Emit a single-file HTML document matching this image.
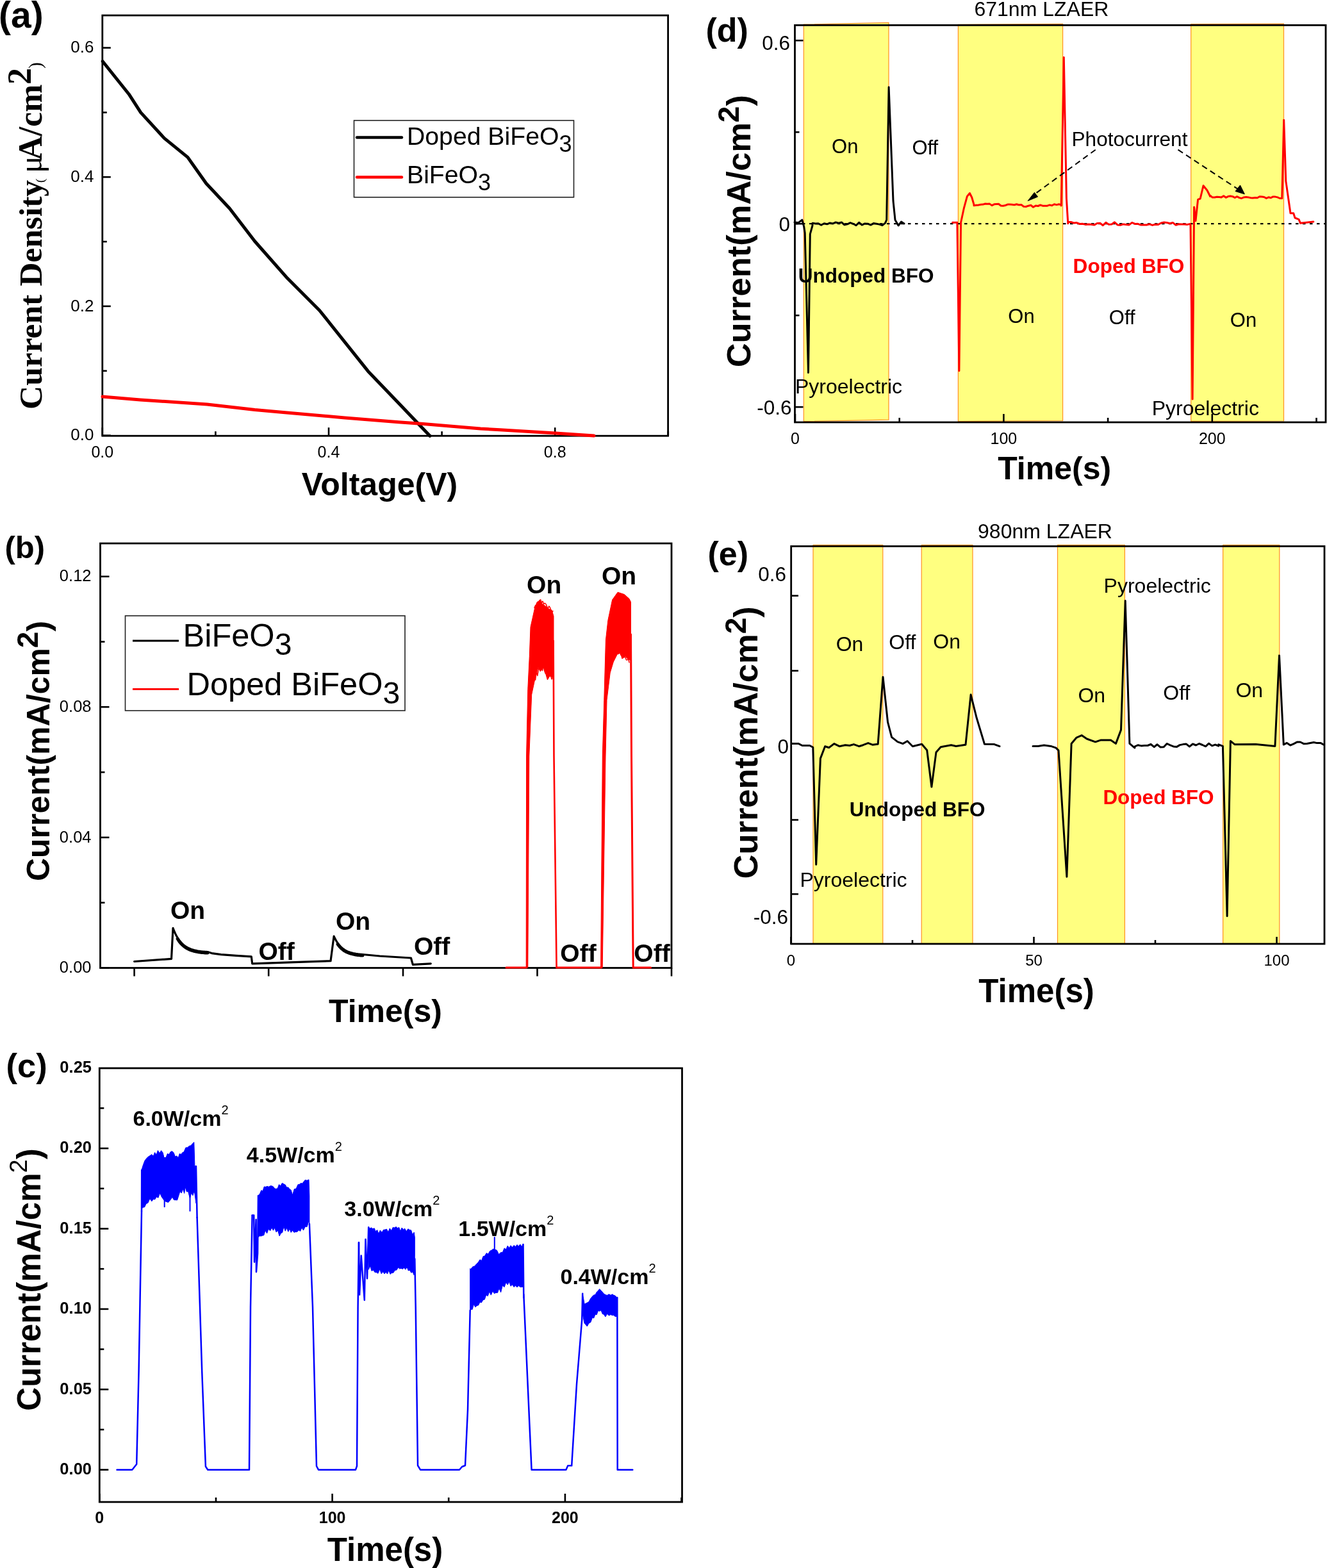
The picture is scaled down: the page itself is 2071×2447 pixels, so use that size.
<!DOCTYPE html>
<html><head><meta charset="utf-8"><title>Figure</title>
<style>html,body{margin:0;padding:0;background:#fff;}svg{display:block;}</style></head>
<body>
<svg width="2071" height="2447" viewBox="0 0 2071 2447">
<rect width="2071" height="2447" fill="#fff"/>
<g id="pa">
<text x="-2.0" y="42.6" font-size="57" text-anchor="start" font-weight="bold" fill="#000" font-family="'Liberation Sans', Arial, sans-serif" >(a)</text>
<rect x="159.8" y="24" width="882.8" height="656.2" fill="none" stroke="#000" stroke-width="2.8"/>
<line x1="159.8" y1="679.6" x2="172.8" y2="679.6" stroke="#000" stroke-width="2.6" />
<line x1="159.8" y1="578.8" x2="166.8" y2="578.8" stroke="#000" stroke-width="2.6" />
<line x1="159.8" y1="477.9" x2="172.8" y2="477.9" stroke="#000" stroke-width="2.6" />
<line x1="159.8" y1="377.1" x2="166.8" y2="377.1" stroke="#000" stroke-width="2.6" />
<line x1="159.8" y1="276.3" x2="172.8" y2="276.3" stroke="#000" stroke-width="2.6" />
<line x1="159.8" y1="175.5" x2="166.8" y2="175.5" stroke="#000" stroke-width="2.6" />
<line x1="159.8" y1="74.6" x2="172.8" y2="74.6" stroke="#000" stroke-width="2.6" />
<line x1="159.8" y1="680.2" x2="159.8" y2="667.2" stroke="#000" stroke-width="2.6" />
<line x1="336.4" y1="680.2" x2="336.4" y2="673.2" stroke="#000" stroke-width="2.6" />
<line x1="513.0" y1="680.2" x2="513.0" y2="667.2" stroke="#000" stroke-width="2.6" />
<line x1="689.6" y1="680.2" x2="689.6" y2="673.2" stroke="#000" stroke-width="2.6" />
<line x1="866.2" y1="680.2" x2="866.2" y2="667.2" stroke="#000" stroke-width="2.6" />
<line x1="1042.8" y1="680.2" x2="1042.8" y2="673.2" stroke="#000" stroke-width="2.6" />
<text x="146.5" y="687.4" font-size="26" text-anchor="end" fill="#000" font-family="'Liberation Sans', Arial, sans-serif" >0.0</text>
<text x="146.5" y="485.7" font-size="26" text-anchor="end" fill="#000" font-family="'Liberation Sans', Arial, sans-serif" >0.2</text>
<text x="146.5" y="284.1" font-size="26" text-anchor="end" fill="#000" font-family="'Liberation Sans', Arial, sans-serif" >0.4</text>
<text x="146.5" y="82.4" font-size="26" text-anchor="end" fill="#000" font-family="'Liberation Sans', Arial, sans-serif" >0.6</text>
<text x="159.8" y="714.3" font-size="25" text-anchor="middle" fill="#000" font-family="'Liberation Sans', Arial, sans-serif" >0.0</text>
<text x="513.0" y="714.3" font-size="25" text-anchor="middle" fill="#000" font-family="'Liberation Sans', Arial, sans-serif" >0.4</text>
<text x="866.2" y="714.3" font-size="25" text-anchor="middle" fill="#000" font-family="'Liberation Sans', Arial, sans-serif" >0.8</text>
<text x="592.4" y="773.0" font-size="50" text-anchor="middle" font-weight="bold" fill="#000" font-family="'Liberation Sans', Arial, sans-serif" >Voltage(V)</text>
<g transform="translate(64.6,638) rotate(-90)" font-family="'Liberation Serif', 'Times New Roman', serif" font-weight="bold"><text x="-1" y="0" font-size="51.5">Current Density</text><text x="353" y="4" font-size="19" font-weight="normal">(</text><text x="368" y="0" font-size="50" font-weight="normal">μ</text><text x="388" y="0" font-size="52">A/cm</text><text x="506" y="-16.4" font-size="52">2</text><text x="531" y="0" font-size="29" font-weight="normal">)</text></g>
<rect x="552.5" y="188" width="343" height="119.8" fill="#fff" stroke="#222" stroke-width="1.6"/>
<line x1="557.0" y1="214.5" x2="627.0" y2="214.5" stroke="#000" stroke-width="4.5" stroke-linecap="round"/>
<line x1="557.0" y1="276.5" x2="627.0" y2="276.5" stroke="#f00" stroke-width="4.5" stroke-linecap="round"/>
<text x="635" y="225.6" font-size="39.2" font-family="'Liberation Sans', Arial, sans-serif">Doped BiFeO<tspan font-size="36" dy="11">3</tspan></text>
<text x="635" y="286.4" font-size="39.2" font-family="'Liberation Sans', Arial, sans-serif">BiFeO<tspan font-size="36" dy="11">3</tspan></text>
<polyline points="160.2,95.7 201.0,146.7 219.7,175.6 256.3,215.6 292.9,245.4 321.8,286.2 358.3,325.3 397.6,376.5 448.6,434.3 498.5,484.2 574.5,579.4 624.4,631.6 670.9,680.3" fill="none" stroke="#000" stroke-width="5" stroke-linejoin="round" stroke-linecap="round" />
<polyline points="160.0,619.0 219.0,624.0 323.0,631.0 397.6,639.5 447.5,644.0 538.0,652.0 622.0,658.8 660.5,661.5 750.0,669.0 780.0,670.7 867.0,676.0 927.0,680.0" fill="none" stroke="#f00" stroke-width="5" stroke-linejoin="round" stroke-linecap="round" />
</g>
<g id="pb">
<text x="7.5" y="870.5" font-size="49" text-anchor="start" font-weight="bold" fill="#000" font-family="'Liberation Sans', Arial, sans-serif" >(b)</text>
<rect x="156.5" y="848" width="891.5" height="662.5" fill="none" stroke="#000" stroke-width="2.8"/>
<line x1="156.5" y1="1510.5" x2="170.5" y2="1510.5" stroke="#000" stroke-width="2.6" />
<line x1="156.5" y1="1408.7" x2="163.5" y2="1408.7" stroke="#000" stroke-width="2.6" />
<line x1="156.5" y1="1306.9" x2="170.5" y2="1306.9" stroke="#000" stroke-width="2.6" />
<line x1="156.5" y1="1205.1" x2="163.5" y2="1205.1" stroke="#000" stroke-width="2.6" />
<line x1="156.5" y1="1103.3" x2="170.5" y2="1103.3" stroke="#000" stroke-width="2.6" />
<line x1="156.5" y1="1001.5" x2="163.5" y2="1001.5" stroke="#000" stroke-width="2.6" />
<line x1="156.5" y1="899.7" x2="170.5" y2="899.7" stroke="#000" stroke-width="2.6" />
<line x1="209.6" y1="1510.5" x2="209.6" y2="1523.5" stroke="#000" stroke-width="2.6" />
<line x1="419.2" y1="1510.5" x2="419.2" y2="1523.5" stroke="#000" stroke-width="2.6" />
<line x1="629.0" y1="1510.5" x2="629.0" y2="1523.5" stroke="#000" stroke-width="2.6" />
<line x1="838.5" y1="1510.5" x2="838.5" y2="1523.5" stroke="#000" stroke-width="2.6" />
<line x1="1048.0" y1="1510.5" x2="1048.0" y2="1523.5" stroke="#000" stroke-width="2.6" />
<text x="142.5" y="1518.2" font-size="25.5" text-anchor="end" fill="#000" font-family="'Liberation Sans', Arial, sans-serif" >0.00</text>
<text x="142.5" y="1314.6" font-size="25.5" text-anchor="end" fill="#000" font-family="'Liberation Sans', Arial, sans-serif" >0.04</text>
<text x="142.5" y="1111.0" font-size="25.5" text-anchor="end" fill="#000" font-family="'Liberation Sans', Arial, sans-serif" >0.08</text>
<text x="142.5" y="907.4" font-size="25.5" text-anchor="end" fill="#000" font-family="'Liberation Sans', Arial, sans-serif" >0.12</text>
<text transform="translate(77.4,1172) rotate(-90)" font-size="50" font-weight="bold" text-anchor="middle" font-family="'Liberation Sans', Arial, sans-serif">Current(mA/cm<tspan font-size="46" dy="-18">2</tspan><tspan dy="18">)</tspan></text>
<text x="601.5" y="1595.0" font-size="50" text-anchor="middle" font-weight="bold" fill="#000" font-family="'Liberation Sans', Arial, sans-serif" >Time(s)</text>
<rect x="195.5" y="961" width="436.5" height="148" fill="#fff" stroke="#222" stroke-width="1.6"/>
<line x1="207.0" y1="1000.0" x2="279.0" y2="1000.0" stroke="#000" stroke-width="3" />
<line x1="207.0" y1="1075.6" x2="279.0" y2="1075.6" stroke="#f00" stroke-width="3" />
<text x="285.5" y="1009.3" font-size="50.5" font-family="'Liberation Sans', Arial, sans-serif">BiFeO<tspan font-size="48" dy="12.5">3</tspan></text>
<text x="291.5" y="1085.3" font-size="50.5" font-family="'Liberation Sans', Arial, sans-serif">Doped BiFeO<tspan font-size="48" dy="12.5">3</tspan></text>
<polyline points="209.6,1500.5 267.5,1496.3 270.0,1448.4 271.8,1453.0 273.6,1457.0 275.4,1460.5 277.2,1463.6 279.0,1466.4 280.8,1468.8 282.6,1470.9 284.4,1472.8 286.2,1474.4 288.0,1475.8 289.8,1477.1 291.6,1478.2 293.4,1479.2 295.2,1480.0 297.0,1480.8 298.8,1481.5 300.6,1482.0 302.4,1482.6 304.2,1483.0 306.0,1483.4 307.8,1483.8 309.6,1484.1 311.4,1484.3 313.2,1484.6 315.0,1484.8 316.8,1485.0 318.6,1485.1 320.4,1485.3 322.2,1485.4 324.0,1485.5 330.4,1487.6 345.0,1489.7 368.7,1491.4 392.3,1492.9 393.7,1503.8 516.0,1499.7 521.1,1461.1 522.6,1464.3 524.1,1467.1 525.6,1469.7 527.1,1471.9 528.6,1473.9 530.1,1475.7 531.6,1477.3 533.1,1478.8 534.6,1480.0 536.1,1481.2 537.6,1482.2 539.1,1483.1 540.6,1483.9 542.1,1484.6 543.5,1485.2 545.0,1485.8 546.5,1486.3 548.0,1486.7 549.5,1487.1 551.0,1487.5 552.5,1487.8 554.0,1488.1 555.5,1488.4 557.0,1488.6 558.5,1488.8 560.0,1489.0 561.5,1489.1 563.0,1489.3 564.5,1489.4 566.0,1489.5 592.7,1492.0 641.4,1495.0 644.3,1505.3 672.3,1503.8" fill="none" stroke="#000" stroke-width="3.2" stroke-linejoin="round" stroke-linecap="round" />
<polyline points="277.2,1465.2 279.0,1468.0 280.8,1470.4 282.6,1472.5 284.4,1474.4 286.2,1476.0 288.0,1477.4 289.8,1478.7 291.6,1479.8 293.4,1480.8 295.2,1481.6 297.0,1482.4 298.8,1483.1 300.6,1483.6 302.4,1484.2 304.2,1484.6 306.0,1485.0 307.8,1485.4 309.6,1485.7 311.4,1485.9 313.2,1486.2 315.0,1486.4 316.8,1486.6 318.6,1486.7 320.4,1486.9 322.2,1487.0 324.0,1487.1" fill="none" stroke="#000" stroke-width="5.0" stroke-linejoin="round" stroke-linecap="round" />
<polyline points="527.1,1473.5 528.6,1475.5 530.1,1477.3 531.6,1478.9 533.1,1480.4 534.6,1481.6 536.1,1482.8 537.6,1483.8 539.1,1484.7 540.6,1485.5 542.1,1486.2 543.5,1486.8 545.0,1487.4 546.5,1487.9 548.0,1488.3 549.5,1488.7 551.0,1489.1 552.5,1489.4 554.0,1489.7 555.5,1490.0 557.0,1490.2 558.5,1490.4 560.0,1490.6 561.5,1490.7 563.0,1490.9 564.5,1491.0 566.0,1491.1" fill="none" stroke="#000" stroke-width="5.0" stroke-linejoin="round" stroke-linecap="round" />
<polyline points="790.0,1510.0 821.5,1510.0" fill="none" stroke="#f00" stroke-width="3" stroke-linejoin="round" stroke-linecap="round" />
<polyline points="868.6,1510.0 938.5,1510.0" fill="none" stroke="#f00" stroke-width="3" stroke-linejoin="round" stroke-linecap="round" />
<polyline points="988.2,1510.0 1015.5,1510.0" fill="none" stroke="#f00" stroke-width="3" stroke-linejoin="round" stroke-linecap="round" />
<polygon points="821.2,1510.0 821.6,1180.0 823.8,1075.6 826.3,1024.6 828.0,978.6 834.8,948.0 838.0,940.0 842.5,937.0 846.0,942.0 851.8,946.3 856.0,950.0 861.2,952.3 864.0,961.6 864.0,1057.0 862.9,1057.0 858.0,1055.0 854.4,1061.0 848.4,1040.0 843.3,1048.0 840.0,1041.6 834.8,1060.0 829.7,1084.0 825.8,1180.0 823.8,1510.0" fill="#f00" stroke="#f00" stroke-width="1" stroke-linejoin="round"/>
<polyline points="863.6,1000.0 864.5,1180.0 868.6,1510.0" fill="none" stroke="#f00" stroke-width="2.6" stroke-linejoin="round" stroke-linecap="round" />
<polyline points="834.0,948.6 835.6,944.8 837.2,946.4 838.8,939.4 840.4,940.7 842.0,936.9 843.7,935.8 845.3,940.7 847.0,938.3 848.7,942.8 850.3,941.2 852.0,942.7 853.6,946.4 855.1,950.6 856.7,946.0 858.3,947.8 859.9,952.0 861.4,955.6 863.0,953.6" fill="none" stroke="#f00" stroke-width="1.5" stroke-linejoin="round" stroke-linecap="round" />
<polyline points="834.0,1056.8 835.6,1061.1 837.2,1047.4 838.8,1054.5 840.4,1045.1 842.0,1040.7 843.5,1039.7 845.0,1041.2 846.5,1046.5 848.0,1038.2 849.6,1046.6 851.2,1050.9 852.8,1051.3 854.4,1057.0 856.0,1054.8 857.8,1054.0 859.5,1055.0 861.2,1059.9 863.0,1056.1" fill="none" stroke="#f00" stroke-width="1.5" stroke-linejoin="round" stroke-linecap="round" />
<polygon points="937.6,1510.0 940.3,1180.0 942.8,1092.6 945.4,999.0 948.8,968.4 955.6,936.1 964.1,924.2 974.3,927.6 982.0,934.4 984.5,939.5 984.5,1000.0 984.5,1030.0 981.0,1029.7 976.0,1024.6 970.9,1028.0 968.3,1018.6 964.1,1019.5 957.3,1033.0 952.2,1050.0 947.0,1092.6 945.0,1180.0 940.2,1510.0" fill="#f00" stroke="#f00" stroke-width="1" stroke-linejoin="round"/>
<polyline points="984.5,990.0 985.5,1180.0 988.2,1510.0" fill="none" stroke="#f00" stroke-width="3" stroke-linejoin="round" stroke-linecap="round" />
<polyline points="963.0,1018.5 964.5,1020.7 966.0,1019.6 967.5,1018.4 969.0,1022.4 970.8,1023.1 972.5,1021.0 974.2,1025.1 976.0,1026.2 977.5,1030.0 979.0,1029.8 980.5,1027.3 982.0,1033.8" fill="none" stroke="#f00" stroke-width="1.5" stroke-linejoin="round" stroke-linecap="round" />
<text x="293.0" y="1433.9" font-size="39" text-anchor="middle" font-weight="bold" fill="#000" font-family="'Liberation Sans', Arial, sans-serif" >On</text>
<text x="431.6" y="1497.9" font-size="39" text-anchor="middle" font-weight="bold" fill="#000" font-family="'Liberation Sans', Arial, sans-serif" >Off</text>
<text x="551.0" y="1451.4" font-size="39" text-anchor="middle" font-weight="bold" fill="#000" font-family="'Liberation Sans', Arial, sans-serif" >On</text>
<text x="674.2" y="1490.0" font-size="39" text-anchor="middle" font-weight="bold" fill="#000" font-family="'Liberation Sans', Arial, sans-serif" >Off</text>
<text x="849.2" y="926.0" font-size="39" text-anchor="middle" font-weight="bold" fill="#000" font-family="'Liberation Sans', Arial, sans-serif" >On</text>
<text x="966.0" y="912.3" font-size="39" text-anchor="middle" font-weight="bold" fill="#000" font-family="'Liberation Sans', Arial, sans-serif" >On</text>
<text x="1017.5" y="1500.5" font-size="39" text-anchor="middle" font-weight="bold" fill="#000" font-family="'Liberation Sans', Arial, sans-serif" >Off</text>
<text x="902.5" y="1500.5" font-size="39" text-anchor="middle" font-weight="bold" fill="#000" font-family="'Liberation Sans', Arial, sans-serif" >Off</text>
</g>
<g id="pc">
<text x="9.5" y="1681.0" font-size="52.5" text-anchor="start" font-weight="bold" fill="#000" font-family="'Liberation Sans', Arial, sans-serif" >(c)</text>
<rect x="155.3" y="1667" width="909.2" height="677" fill="none" stroke="#000" stroke-width="2.8"/>
<line x1="155.3" y1="2293.7" x2="169.3" y2="2293.7" stroke="#000" stroke-width="2.6" />
<line x1="155.3" y1="2231.0" x2="162.3" y2="2231.0" stroke="#000" stroke-width="2.6" />
<line x1="155.3" y1="2168.3" x2="169.3" y2="2168.3" stroke="#000" stroke-width="2.6" />
<line x1="155.3" y1="2105.6" x2="162.3" y2="2105.6" stroke="#000" stroke-width="2.6" />
<line x1="155.3" y1="2042.9" x2="169.3" y2="2042.9" stroke="#000" stroke-width="2.6" />
<line x1="155.3" y1="1980.2" x2="162.3" y2="1980.2" stroke="#000" stroke-width="2.6" />
<line x1="155.3" y1="1917.5" x2="169.3" y2="1917.5" stroke="#000" stroke-width="2.6" />
<line x1="155.3" y1="1854.8" x2="162.3" y2="1854.8" stroke="#000" stroke-width="2.6" />
<line x1="155.3" y1="1792.1" x2="169.3" y2="1792.1" stroke="#000" stroke-width="2.6" />
<line x1="155.3" y1="1729.4" x2="162.3" y2="1729.4" stroke="#000" stroke-width="2.6" />
<line x1="155.3" y1="2344.0" x2="155.3" y2="2331.0" stroke="#000" stroke-width="2.6" />
<line x1="337.0" y1="2344.0" x2="337.0" y2="2337.0" stroke="#000" stroke-width="2.6" />
<line x1="518.6" y1="2344.0" x2="518.6" y2="2331.0" stroke="#000" stroke-width="2.6" />
<line x1="700.2" y1="2344.0" x2="700.2" y2="2337.0" stroke="#000" stroke-width="2.6" />
<line x1="881.9" y1="2344.0" x2="881.9" y2="2331.0" stroke="#000" stroke-width="2.6" />
<line x1="1063.5" y1="2344.0" x2="1063.5" y2="2337.0" stroke="#000" stroke-width="2.6" />
<text x="143.0" y="2300.9" font-size="25.5" text-anchor="end" font-weight="bold" fill="#000" font-family="'Liberation Sans', Arial, sans-serif" >0.00</text>
<text x="143.0" y="2175.5" font-size="25.5" text-anchor="end" font-weight="bold" fill="#000" font-family="'Liberation Sans', Arial, sans-serif" >0.05</text>
<text x="143.0" y="2050.1" font-size="25.5" text-anchor="end" font-weight="bold" fill="#000" font-family="'Liberation Sans', Arial, sans-serif" >0.10</text>
<text x="143.0" y="1924.7" font-size="25.5" text-anchor="end" font-weight="bold" fill="#000" font-family="'Liberation Sans', Arial, sans-serif" >0.15</text>
<text x="143.0" y="1799.3" font-size="25.5" text-anchor="end" font-weight="bold" fill="#000" font-family="'Liberation Sans', Arial, sans-serif" >0.20</text>
<text x="143.0" y="1673.9" font-size="25.5" text-anchor="end" font-weight="bold" fill="#000" font-family="'Liberation Sans', Arial, sans-serif" >0.25</text>
<text x="155.3" y="2377.2" font-size="25" text-anchor="middle" font-weight="bold" fill="#000" font-family="'Liberation Sans', Arial, sans-serif" >0</text>
<text x="518.6" y="2377.2" font-size="25" text-anchor="middle" font-weight="bold" fill="#000" font-family="'Liberation Sans', Arial, sans-serif" >100</text>
<text x="881.9" y="2377.2" font-size="25" text-anchor="middle" font-weight="bold" fill="#000" font-family="'Liberation Sans', Arial, sans-serif" >200</text>
<text transform="translate(62.5,1997) rotate(-90)" font-size="51" font-weight="bold" text-anchor="middle" font-family="'Liberation Sans', Arial, sans-serif">Current(mA/cm<tspan font-size="38" font-weight="normal" dy="-21">2</tspan><tspan dy="21">)</tspan></text>
<text x="601.0" y="2436.0" font-size="51" text-anchor="middle" font-weight="bold" fill="#000" font-family="'Liberation Sans', Arial, sans-serif" >Time(s)</text>
<text x="207.5" y="1756.8" font-size="34" font-weight="bold" font-family="'Liberation Sans', Arial, sans-serif">6.0W/cm<tspan font-size="20" font-weight="normal" dy="-18">2</tspan></text>
<text x="384.8" y="1814" font-size="34" font-weight="bold" font-family="'Liberation Sans', Arial, sans-serif">4.5W/cm<tspan font-size="20" font-weight="normal" dy="-18">2</tspan></text>
<text x="537.3" y="1898.2" font-size="34" font-weight="bold" font-family="'Liberation Sans', Arial, sans-serif">3.0W/cm<tspan font-size="20" font-weight="normal" dy="-18">2</tspan></text>
<text x="715.3" y="1928.6" font-size="34" font-weight="bold" font-family="'Liberation Sans', Arial, sans-serif">1.5W/cm<tspan font-size="20" font-weight="normal" dy="-18">2</tspan></text>
<text x="874.5" y="2003.5" font-size="34" font-weight="bold" font-family="'Liberation Sans', Arial, sans-serif">0.4W/cm<tspan font-size="20" font-weight="normal" dy="-18">2</tspan></text>
<polyline points="182.5,2293.7 206.3,2293.7 213.2,2285.0 216.6,2140.0 221.0,1890.0" fill="none" stroke="#00f" stroke-width="2.5" stroke-linejoin="round" stroke-linecap="round" />
<polyline points="307.6,1900.0 315.2,2140.0 320.9,2288.5 324.3,2293.7 389.0,2293.7 391.0,2040.0 393.6,1897.0" fill="none" stroke="#00f" stroke-width="2.5" stroke-linejoin="round" stroke-linecap="round" />
<polyline points="482.9,1910.0 488.0,2040.0 494.0,2288.0 497.0,2293.7 555.0,2293.7 557.0,2288.0 558.6,2040.0 560.0,1939.0" fill="none" stroke="#00f" stroke-width="2.5" stroke-linejoin="round" stroke-linecap="round" />
<polyline points="647.3,1964.5 648.7,2040.0 652.0,2287.0 656.0,2293.7 717.0,2293.7 721.0,2289.0 726.0,2287.0 730.0,2200.0 733.7,2045.0" fill="none" stroke="#00f" stroke-width="2.5" stroke-linejoin="round" stroke-linecap="round" />
<polyline points="817.3,2020.0 829.6,2293.7 883.4,2293.7 886.3,2287.3 892.2,2287.3 900.0,2160.0 908.2,2060.0 909.2,2018.8" fill="none" stroke="#00f" stroke-width="2.5" stroke-linejoin="round" stroke-linecap="round" />
<polyline points="963.3,2025.0 963.7,2293.7 987.3,2293.7" fill="none" stroke="#00f" stroke-width="2.5" stroke-linejoin="round" stroke-linecap="round" />
<polygon points="221.0,1825.8 223.6,1817.5 226.1,1811.1 228.7,1807.8 231.4,1805.1 234.1,1803.5 236.8,1801.5 239.2,1804.5 241.6,1798.5 244.0,1802.2 246.4,1795.4 249.0,1799.7 251.6,1795.6 254.2,1799.0 256.0,1806.5 259.0,1806.4 261.4,1800.4 263.8,1801.6 266.1,1797.6 268.5,1796.6 271.0,1798.8 273.4,1805.0 275.9,1803.9 278.1,1807.1 280.3,1800.5 282.5,1801.5 284.8,1798.6 287.0,1797.8 289.9,1791.0 292.6,1790.8 295.3,1788.4 298.0,1787.8 300.4,1784.8 302.8,1782.6 303.9,1818.8 306.0,1822.1 306.0,1877.8 303.2,1857.9 300.9,1865.7 298.7,1861.4 296.5,1870.3 293.6,1859.3 291.4,1859.9 289.2,1852.3 287.7,1862.4 285.5,1855.6 283.2,1862.0 281.0,1859.2 276.6,1872.9 274.0,1872.7 271.5,1872.6 268.9,1868.2 266.3,1872.1 262.6,1876.4 259.0,1875.2 256.7,1874.0 252.3,1867.9 249.6,1861.9 246.9,1869.2 244.2,1867.8 241.7,1871.9 239.3,1871.5 236.8,1874.8 233.9,1870.4 231.0,1877.1 228.0,1878.6 225.7,1883.7 223.3,1884.3 221.0,1885.9" fill="#00f" stroke="#00f" stroke-width="1" stroke-linejoin="round"/>
<polyline points="221.0,1890.0 221.2,1826.0" fill="none" stroke="#00f" stroke-width="2.5" stroke-linejoin="round" stroke-linecap="round" />
<polyline points="306.0,1820.0 307.6,1900.0" fill="none" stroke="#00f" stroke-width="2.5" stroke-linejoin="round" stroke-linecap="round" />
<polyline points="256.7,1870.0 256.7,1883.2" fill="none" stroke="#00f" stroke-width="2" stroke-linejoin="round" stroke-linecap="round" />
<polyline points="296.5,1866.0 296.5,1889.8" fill="none" stroke="#00f" stroke-width="2" stroke-linejoin="round" stroke-linecap="round" />
<polyline points="393.6,1896.5 396.2,1896.5 397.0,1969.6 399.6,1903.3 400.0,1985.0 402.1,1956.0 403.0,1866.0" fill="none" stroke="#00f" stroke-width="2.5" stroke-linejoin="round" stroke-linecap="round" />
<polygon points="403.0,1865.8 405.5,1863.1 407.8,1857.6 410.0,1858.8 412.3,1851.9 414.7,1852.3 417.1,1851.3 419.4,1852.2 421.8,1850.7 424.2,1850.8 426.5,1851.9 428.7,1854.8 431.0,1855.4 433.3,1854.4 435.5,1848.5 437.8,1850.6 440.4,1846.3 443.0,1847.9 445.2,1848.9 447.5,1853.1 449.8,1852.9 452.0,1855.7 454.2,1857.2 456.5,1865.0 459.3,1855.6 462.2,1855.1 465.0,1848.6 467.3,1848.3 469.5,1846.4 471.8,1847.0 476.1,1841.4 479.1,1842.2 482.0,1840.9 482.9,1865.7 482.9,1910.7 482.0,1904.9 479.2,1914.4 476.3,1914.3 473.5,1920.0 471.1,1915.9 468.6,1921.4 466.2,1919.8 463.8,1922.5 461.4,1922.5 458.9,1923.3 456.5,1920.1 454.2,1923.4 452.0,1917.6 449.8,1922.2 447.5,1916.3 445.2,1921.2 443.0,1914.1 440.7,1923.4 438.4,1924.6 436.1,1928.9 433.6,1920.3 431.0,1922.8 428.7,1916.0 426.5,1920.2 424.2,1916.0 421.6,1920.8 419.1,1917.9 416.6,1924.7 414.0,1920.2 411.8,1927.7 409.6,1928.2 407.4,1929.1 405.2,1928.8 403.0,1930.5" fill="#00f" stroke="#00f" stroke-width="1" stroke-linejoin="round"/>
<polyline points="560.0,1939.0 561.1,2020.6 563.7,1959.4 568.8,2029.0 570.5,1933.9 573.0,1995.3 575.2,1915.2" fill="none" stroke="#00f" stroke-width="2.5" stroke-linejoin="round" stroke-linecap="round" />
<polygon points="575.2,1915.1 577.4,1916.9 579.7,1915.9 581.9,1917.7 584.1,1916.7 586.4,1921.8 588.6,1919.4 590.9,1925.3 593.4,1919.9 596.0,1923.4 598.5,1919.2 601.0,1919.1 603.4,1918.1 605.9,1922.8 608.3,1916.9 610.8,1920.6 613.2,1915.5 615.7,1916.0 618.1,1914.5 620.4,1916.7 622.6,1915.3 624.9,1921.4 627.2,1916.0 629.4,1918.9 631.7,1917.2 634.2,1921.8 636.8,1917.8 639.3,1919.4 641.6,1919.8 643.9,1926.8 646.2,1923.0 647.3,1930.9 647.3,1960.8 646.2,1990.0 644.0,1984.8 641.8,1986.3 639.5,1982.0 637.3,1983.0 635.1,1977.4 632.8,1981.2 630.6,1978.5 628.3,1980.4 626.0,1979.4 623.8,1980.1 621.5,1978.0 619.0,1981.9 616.4,1982.4 613.8,1986.3 611.3,1986.5 609.0,1988.5 606.8,1982.5 604.5,1988.1 602.2,1985.3 600.0,1988.0 597.7,1984.6 595.2,1987.8 592.6,1980.7 590.0,1987.3 587.5,1985.7 585.0,1985.6 582.6,1982.1 580.1,1983.4 577.7,1975.7 575.2,1981.3" fill="#00f" stroke="#00f" stroke-width="1" stroke-linejoin="round"/>
<polygon points="733.7,1979.7 734.7,1980.6 737.8,1976.8 740.8,1975.9 743.5,1972.7 746.3,1970.1 749.0,1965.7 751.5,1967.5 754.1,1960.6 756.7,1960.0 759.2,1955.5 761.9,1957.1 764.6,1952.3 767.3,1951.0 769.5,1949.2 771.8,1949.5 775.5,1951.3 778.5,1957.6 781.6,1954.5 784.3,1954.5 787.1,1947.9 789.8,1949.8 792.2,1944.1 794.7,1947.6 797.1,1943.7 799.6,1946.6 802.0,1943.4 804.5,1945.6 806.9,1942.5 809.4,1944.9 811.8,1941.9 814.3,1945.4 816.5,1941.2 816.5,2008.0 814.3,2008.5 811.8,2008.5 809.4,2006.4 806.9,2008.8 804.5,2006.2 802.0,2008.6 799.6,2004.8 797.1,2007.2 794.7,2000.3 792.2,2005.0 789.8,2001.1 787.1,2008.6 784.3,2006.0 781.6,2016.9 779.0,2010.5 776.5,2017.5 774.0,2017.3 771.4,2018.7 768.9,2014.8 766.3,2021.1 763.8,2015.6 761.2,2022.7 758.8,2020.7 756.3,2028.0 753.9,2028.5 751.4,2032.9 749.0,2032.0 746.6,2037.0 744.2,2037.5 741.9,2040.0 739.5,2035.3 737.1,2043.6 734.7,2043.5 733.7,2045.7" fill="#00f" stroke="#00f" stroke-width="1" stroke-linejoin="round"/>
<polyline points="771.8,1950.0 771.8,1931.0" fill="none" stroke="#00f" stroke-width="2" stroke-linejoin="round" stroke-linecap="round" />
<polyline points="816.5,1942.0 817.3,2025.0" fill="none" stroke="#00f" stroke-width="2.5" stroke-linejoin="round" stroke-linecap="round" />
<polygon points="909.2,2018.8 912.2,2035.2 916.3,2033.0 919.0,2031.6 921.8,2026.3 924.5,2023.1 926.7,2020.9 929.0,2020.7 931.2,2016.4 933.5,2014.2 935.7,2011.5 938.0,2014.0 940.3,2016.4 942.6,2019.3 944.9,2020.6 947.6,2021.4 950.4,2019.7 953.1,2021.3 955.5,2019.7 957.8,2021.3 960.1,2022.1 962.5,2024.6 963.3,2024.1 963.3,2055.3 962.5,2054.4 960.1,2054.5 957.8,2052.5 955.5,2052.7 953.1,2051.5 950.4,2053.1 947.6,2050.3 944.9,2055.0 942.6,2051.4 940.3,2050.5 938.0,2044.8 935.7,2046.3 933.5,2045.4 931.2,2051.8 929.0,2051.2 926.7,2057.1 924.5,2056.2 921.8,2063.6 919.0,2065.0 916.3,2069.9 912.0,2064.8 909.2,2050.2" fill="#00f" stroke="#00f" stroke-width="1" stroke-linejoin="round"/>
</g>
<g id="pd">
<polygon points="1254.3,38.2 1387,35.4 1387,655.1 1254.3,657.6" fill="#ffff80" stroke="#ff9020" stroke-width="1.2"/>
<polygon points="1495.4,38.4 1658.6,37.4 1658.6,656.6 1495.4,657.6" fill="#ffff80" stroke="#ff9020" stroke-width="1.2"/>
<polygon points="1858.7,37.6 2003.5,37.2 2003.5,657.0 1858.7,657.4" fill="#ffff80" stroke="#ff9020" stroke-width="1.2"/>
<rect x="1240.5" y="39.3" width="828.5" height="619.7" fill="none" stroke="#000" stroke-width="2.8"/>
<line x1="1240.5" y1="63.2" x2="1253.5" y2="63.2" stroke="#000" stroke-width="2.6" />
<line x1="1240.5" y1="206.2" x2="1247.5" y2="206.2" stroke="#000" stroke-width="2.6" />
<line x1="1240.5" y1="349.2" x2="1253.5" y2="349.2" stroke="#000" stroke-width="2.6" />
<line x1="1240.5" y1="492.2" x2="1247.5" y2="492.2" stroke="#000" stroke-width="2.6" />
<line x1="1240.5" y1="635.2" x2="1253.5" y2="635.2" stroke="#000" stroke-width="2.6" />
<line x1="1241.0" y1="659.0" x2="1241.0" y2="646.0" stroke="#000" stroke-width="2.6" />
<line x1="1403.7" y1="659.0" x2="1403.7" y2="652.0" stroke="#000" stroke-width="2.6" />
<line x1="1566.4" y1="659.0" x2="1566.4" y2="646.0" stroke="#000" stroke-width="2.6" />
<line x1="1729.1" y1="659.0" x2="1729.1" y2="652.0" stroke="#000" stroke-width="2.6" />
<line x1="1891.8" y1="659.0" x2="1891.8" y2="646.0" stroke="#000" stroke-width="2.6" />
<line x1="2054.5" y1="659.0" x2="2054.5" y2="652.0" stroke="#000" stroke-width="2.6" />
<text x="1233.0" y="77.5" font-size="31.5" text-anchor="end" fill="#000" font-family="'Liberation Sans', Arial, sans-serif" >0.6</text>
<text x="1233.0" y="360.5" font-size="31.5" text-anchor="end" fill="#000" font-family="'Liberation Sans', Arial, sans-serif" >0</text>
<text x="1235.5" y="646.5" font-size="31.5" text-anchor="end" fill="#000" font-family="'Liberation Sans', Arial, sans-serif" >-0.6</text>
<text x="1241.0" y="692.8" font-size="25" text-anchor="middle" fill="#000" font-family="'Liberation Sans', Arial, sans-serif" >0</text>
<text x="1566.4" y="692.8" font-size="25" text-anchor="middle" fill="#000" font-family="'Liberation Sans', Arial, sans-serif" >100</text>
<text x="1891.8" y="692.8" font-size="25" text-anchor="middle" fill="#000" font-family="'Liberation Sans', Arial, sans-serif" >200</text>
<text x="1625.4" y="25.4" font-size="32" text-anchor="middle" fill="#000" font-family="'Liberation Sans', Arial, sans-serif" >671nm LZAER</text>
<text x="1645.7" y="747.9" font-size="50" text-anchor="middle" font-weight="bold" fill="#000" font-family="'Liberation Sans', Arial, sans-serif" >Time(s)</text>
<text x="1101.5" y="64.5" font-size="52" text-anchor="start" font-weight="bold" fill="#000" font-family="'Liberation Sans', Arial, sans-serif" >(d)</text>
<text transform="translate(1171,360.7) rotate(-90)" font-size="52.5" font-weight="bold" text-anchor="middle" font-family="'Liberation Sans', Arial, sans-serif">Current(mA/cm<tspan font-size="46" dy="-18">2</tspan><tspan dy="18">)</tspan></text>
<line x1="1241.0" y1="349.2" x2="2069.0" y2="349.2" stroke="#000" stroke-width="2.2" stroke-dasharray="4.5 6.5"/>
<polyline points="1240.0,346.9 1245.9,347.6 1251.8,343.2 1254.7,353.5 1256.2,363.8 1261.5,581.6 1264.3,365.3 1268.0,352.0 1268.0,348.3 1272.5,348.9 1277.1,348.8 1281.6,351.3 1286.2,348.7 1290.7,349.8 1295.2,348.0 1299.8,348.9 1304.3,347.0 1308.9,348.2 1313.4,346.9 1317.9,350.9 1322.5,349.8 1327.0,347.7 1331.6,349.3 1336.1,351.8 1340.6,347.2 1345.2,351.1 1349.7,348.9 1354.3,349.2 1358.8,351.1 1363.3,348.6 1367.9,349.2 1372.4,350.1 1377.0,351.7 1381.5,348.1 1383.7,343.2 1387.1,136.1 1390.3,217.9 1394.0,313.7 1397.0,343.2 1402.1,352.0 1406.5,346.1 1411.0,349.0" fill="none" stroke="#000" stroke-width="3" stroke-linejoin="round" stroke-linecap="round" />
<polyline points="1486.5,347.2 1493.9,347.2 1496.9,578.7 1499.6,347.2 1504.5,324.3 1509.4,306.4 1513.4,301.5 1516.7,308.0 1520.0,319.4 1520.0,320.7 1523.5,320.3 1527.0,320.0 1530.5,319.2 1534.0,319.1 1537.5,318.0 1541.0,318.3 1544.5,318.1 1548.0,320.6 1551.5,318.8 1555.0,318.5 1558.5,318.3 1562.0,321.0 1565.5,321.2 1569.0,320.5 1572.5,319.1 1576.0,319.0 1579.5,319.2 1583.0,319.8 1586.5,318.7 1590.0,319.8 1593.8,319.4 1597.5,322.2 1601.2,322.5 1605.0,321.2 1608.8,320.3 1612.5,323.2 1616.2,321.1 1620.0,321.5 1623.6,320.0 1627.2,321.2 1630.9,321.3 1634.5,321.2 1638.1,319.9 1641.7,320.8 1645.3,318.8 1649.0,319.6 1652.6,318.7 1656.2,319.6 1656.2,321.0 1660.3,89.4 1664.4,309.6 1666.8,348.8 1666.8,346.6 1671.3,346.5 1675.9,348.0 1680.4,347.6 1685.0,349.5 1689.5,349.2 1694.1,350.4 1698.6,349.9 1703.1,350.2 1707.7,351.1 1712.2,348.5 1716.8,348.2 1721.3,351.7 1725.9,347.3 1730.4,350.3 1734.9,349.9 1739.5,346.8 1744.0,350.9 1748.6,351.3 1753.1,349.9 1757.7,350.5 1762.2,350.9 1766.7,347.4 1771.3,349.4 1775.8,349.3 1780.4,351.0 1784.9,350.9 1789.5,351.0 1794.0,349.8 1798.5,351.4 1803.1,350.3 1807.6,350.4 1812.2,348.0 1816.7,347.0 1821.3,347.5 1825.8,348.7 1830.3,347.4 1834.9,351.2 1839.4,349.8 1844.0,350.1 1848.5,350.1 1853.1,350.4 1857.6,349.4 1858.0,350.0 1861.1,623.1 1863.6,323.2 1866.0,344.7 1869.6,311.3 1873.2,310.0 1878.0,289.8 1883.9,297.0 1888.7,306.5 1888.7,305.2 1892.2,308.1 1895.7,308.0 1899.2,307.2 1902.7,307.4 1906.2,307.9 1909.7,305.8 1913.2,308.3 1916.7,306.6 1920.2,306.0 1923.7,306.7 1927.2,308.5 1930.7,306.7 1934.2,308.6 1937.7,309.5 1941.2,307.9 1944.8,307.5 1948.3,307.9 1951.8,308.7 1955.3,309.1 1958.8,308.6 1962.3,308.8 1965.8,306.8 1969.3,307.1 1972.8,307.5 1976.3,309.4 1979.8,307.8 1983.3,308.8 1986.8,306.9 1990.3,307.1 1993.8,307.9 1997.3,309.5 2000.8,309.6 2000.8,308.9 2003.7,187.2 2006.8,282.6 2014.0,332.7 2018.7,332.7 2021.0,340.0 2027.0,342.3 2029.5,348.3 2049.8,345.9" fill="none" stroke="#f00" stroke-width="3" stroke-linejoin="round" stroke-linecap="round" />
<line x1="1709.7" y1="233.7" x2="1612.0" y2="305.0" stroke="#000" stroke-width="2" stroke-dasharray="9 6"/>
<polygon points="1604.2,313.4 1614.4,300.3 1619.5,307.1" fill="#000" stroke="#000" stroke-width="1" stroke-linejoin="round"/>
<line x1="1838.5" y1="233.7" x2="1935.0" y2="297.0" stroke="#000" stroke-width="2" stroke-dasharray="9 6"/>
<polygon points="1942.4,302.9 1928.0,298.5 1935.5,289.0" fill="#000" stroke="#000" stroke-width="1" stroke-linejoin="round"/>
<text x="1318.7" y="239.3" font-size="31" text-anchor="middle" fill="#000" font-family="'Liberation Sans', Arial, sans-serif" >On</text>
<text x="1443.8" y="240.8" font-size="31" text-anchor="middle" fill="#000" font-family="'Liberation Sans', Arial, sans-serif" >Off</text>
<text x="1351.7" y="441.2" font-size="31.5" text-anchor="middle" font-weight="bold" fill="#000" font-family="'Liberation Sans', Arial, sans-serif" >Undoped BFO</text>
<text x="1324.5" y="614.3" font-size="32" text-anchor="middle" fill="#000" font-family="'Liberation Sans', Arial, sans-serif" >Pyroelectric</text>
<text x="1763.0" y="227.5" font-size="31.6" text-anchor="middle" fill="#000" font-family="'Liberation Sans', Arial, sans-serif" >Photocurrent</text>
<text x="1761.5" y="425.9" font-size="31.6" text-anchor="middle" font-weight="bold" fill="#f00" font-family="'Liberation Sans', Arial, sans-serif" >Doped BFO</text>
<text x="1594.0" y="504.3" font-size="31" text-anchor="middle" fill="#000" font-family="'Liberation Sans', Arial, sans-serif" >On</text>
<text x="1751.2" y="505.8" font-size="31" text-anchor="middle" fill="#000" font-family="'Liberation Sans', Arial, sans-serif" >Off</text>
<text x="1940.5" y="509.5" font-size="31" text-anchor="middle" fill="#000" font-family="'Liberation Sans', Arial, sans-serif" >On</text>
<text x="1881.3" y="647.5" font-size="32" text-anchor="middle" fill="#000" font-family="'Liberation Sans', Arial, sans-serif" >Pyroelectric</text>
</g>
<g id="pe">
<rect x="1269" y="850.5" width="108.8" height="622" fill="#ffff80" stroke="#ff9020" stroke-width="1.2"/>
<rect x="1438.2" y="850.5" width="79.8" height="622" fill="#ffff80" stroke="#ff9020" stroke-width="1.2"/>
<rect x="1650.5" y="850.5" width="104.9" height="622" fill="#ffff80" stroke="#ff9020" stroke-width="1.2"/>
<rect x="1908.6" y="850.5" width="88.2" height="622" fill="#ffff80" stroke="#ff9020" stroke-width="1.2"/>
<rect x="1234.7" y="852.5" width="832.3" height="620.5" fill="none" stroke="#000" stroke-width="2.8"/>
<line x1="1235.0" y1="929.7" x2="1246.0" y2="929.7" stroke="#000" stroke-width="2.6" />
<line x1="1235.0" y1="1046.8" x2="1246.0" y2="1046.8" stroke="#000" stroke-width="2.6" />
<line x1="1235.0" y1="1279.5" x2="1246.0" y2="1279.5" stroke="#000" stroke-width="2.6" />
<line x1="1235.0" y1="1395.3" x2="1246.0" y2="1395.3" stroke="#000" stroke-width="2.6" />
<line x1="1234.5" y1="1473.0" x2="1234.5" y2="1462.0" stroke="#000" stroke-width="2.6" />
<line x1="1424.0" y1="1473.0" x2="1424.0" y2="1467.0" stroke="#000" stroke-width="2.6" />
<line x1="1613.5" y1="1473.0" x2="1613.5" y2="1462.0" stroke="#000" stroke-width="2.6" />
<line x1="1803.0" y1="1473.0" x2="1803.0" y2="1467.0" stroke="#000" stroke-width="2.6" />
<line x1="1992.5" y1="1473.0" x2="1992.5" y2="1462.0" stroke="#000" stroke-width="2.6" />
<text x="1227.0" y="907.0" font-size="31.5" text-anchor="end" fill="#000" font-family="'Liberation Sans', Arial, sans-serif" >0.6</text>
<text x="1231.0" y="1175.5" font-size="31.5" text-anchor="end" fill="#000" font-family="'Liberation Sans', Arial, sans-serif" >0</text>
<text x="1230.0" y="1441.5" font-size="31.5" text-anchor="end" fill="#000" font-family="'Liberation Sans', Arial, sans-serif" >-0.6</text>
<text x="1234.5" y="1507.3" font-size="24" text-anchor="middle" fill="#000" font-family="'Liberation Sans', Arial, sans-serif" >0</text>
<text x="1613.5" y="1507.3" font-size="24" text-anchor="middle" fill="#000" font-family="'Liberation Sans', Arial, sans-serif" >50</text>
<text x="1992.5" y="1507.3" font-size="24" text-anchor="middle" fill="#000" font-family="'Liberation Sans', Arial, sans-serif" >100</text>
<text x="1631.0" y="839.5" font-size="32" text-anchor="middle" fill="#000" font-family="'Liberation Sans', Arial, sans-serif" >980nm LZAER</text>
<text x="1617.6" y="1564.3" font-size="51" text-anchor="middle" font-weight="bold" fill="#000" font-family="'Liberation Sans', Arial, sans-serif" >Time(s)</text>
<text x="1104.5" y="882.0" font-size="52" text-anchor="start" font-weight="bold" fill="#000" font-family="'Liberation Sans', Arial, sans-serif" >(e)</text>
<text transform="translate(1181.8,1158.9) rotate(-90)" font-size="52.5" font-weight="bold" text-anchor="middle" font-family="'Liberation Sans', Arial, sans-serif">Current(mA/cm<tspan font-size="46" dy="-18">2</tspan><tspan dy="18">)</tspan></text>
<polyline points="1235.4,1160.6 1246.4,1160.6 1252.0,1163.5 1263.7,1163.5 1268.8,1166.3 1273.7,1349.2 1280.4,1183.6 1287.6,1164.7 1293.7,1166.7 1301.8,1160.6 1310.0,1164.7 1319.2,1162.7 1326.0,1163.5 1332.4,1161.6 1340.6,1164.7 1347.0,1162.7 1354.9,1159.6 1362.0,1162.3 1370.2,1161.2 1378.0,1056.5 1385.5,1126.9 1391.6,1150.4 1400.8,1157.6 1409.0,1160.6 1416.1,1156.5 1424.3,1164.7 1438.6,1161.2 1446.7,1170.8 1453.9,1228.0 1461.0,1173.9 1468.2,1165.7 1484.5,1162.7 1492.0,1164.5 1507.0,1162.2 1515.1,1084.1 1524.3,1120.8 1536.5,1161.2 1551.8,1161.6 1560.0,1164.7" fill="none" stroke="#000" stroke-width="3" stroke-linejoin="round" stroke-linecap="round" />
<polyline points="1612.0,1164.4 1620.0,1164.4 1629.4,1163.1 1640.0,1164.4 1648.0,1167.1 1652.0,1171.1 1664.9,1368.3 1672.1,1160.4 1680.1,1151.1 1688.1,1147.6 1696.1,1153.0 1709.5,1157.8 1717.5,1155.1 1733.5,1155.1 1741.5,1160.4 1749.5,1139.1 1756.2,937.5 1762.9,1160.4 1770.9,1167.1 1770.9,1165.0 1775.9,1162.8 1781.0,1163.9 1786.0,1163.6 1791.0,1163.5 1796.1,1161.5 1801.1,1165.7 1806.1,1161.8 1811.1,1166.1 1816.2,1165.8 1821.2,1160.5 1826.2,1162.9 1831.3,1164.9 1836.3,1165.6 1841.3,1162.6 1846.4,1161.6 1851.4,1161.1 1856.4,1165.2 1861.5,1161.0 1866.5,1163.0 1871.5,1160.5 1876.5,1162.5 1881.6,1164.8 1886.6,1160.2 1891.6,1163.9 1896.7,1162.1 1901.7,1164.2 1901.7,1161.8 1908.4,1164.4 1915.1,1429.7 1920.4,1156.4 1927.1,1161.8 1960.0,1161.5 1989.9,1164.4 1996.5,1022.9 2003.2,1160.4 2003.2,1162.1 2008.4,1159.4 2013.7,1163.1 2018.9,1160.8 2024.1,1158.1 2029.4,1158.0 2034.6,1160.7 2039.8,1160.4 2045.1,1159.5 2050.3,1158.5 2055.5,1159.6 2060.8,1159.4 2066.0,1162.3" fill="none" stroke="#000" stroke-width="3" stroke-linejoin="round" stroke-linecap="round" />
<text x="1326.0" y="1015.7" font-size="32" text-anchor="middle" fill="#000" font-family="'Liberation Sans', Arial, sans-serif" >On</text>
<text x="1408.3" y="1012.7" font-size="32" text-anchor="middle" fill="#000" font-family="'Liberation Sans', Arial, sans-serif" >Off</text>
<text x="1477.7" y="1011.6" font-size="32" text-anchor="middle" fill="#000" font-family="'Liberation Sans', Arial, sans-serif" >On</text>
<text x="1431.7" y="1273.9" font-size="31.5" text-anchor="middle" font-weight="bold" fill="#000" font-family="'Liberation Sans', Arial, sans-serif" >Undoped BFO</text>
<text x="1332.0" y="1383.7" font-size="32" text-anchor="middle" fill="#000" font-family="'Liberation Sans', Arial, sans-serif" >Pyroelectric</text>
<text x="1806.2" y="924.9" font-size="32" text-anchor="middle" fill="#000" font-family="'Liberation Sans', Arial, sans-serif" >Pyroelectric</text>
<text x="1703.8" y="1096.3" font-size="32" text-anchor="middle" fill="#000" font-family="'Liberation Sans', Arial, sans-serif" >On</text>
<text x="1836.4" y="1092.3" font-size="32" text-anchor="middle" fill="#000" font-family="'Liberation Sans', Arial, sans-serif" >Off</text>
<text x="1949.8" y="1087.8" font-size="32" text-anchor="middle" fill="#000" font-family="'Liberation Sans', Arial, sans-serif" >On</text>
<text x="1808.0" y="1254.8" font-size="31.5" text-anchor="middle" font-weight="bold" fill="#f00" font-family="'Liberation Sans', Arial, sans-serif" >Doped BFO</text>
</g>
</svg>
</body></html>
